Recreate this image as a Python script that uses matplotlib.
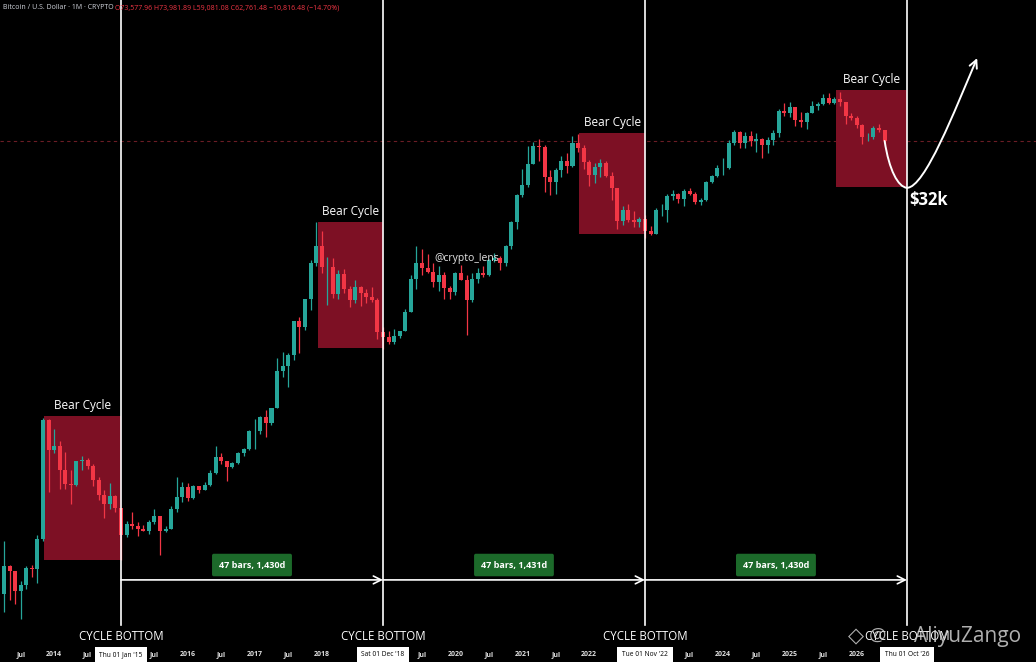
import numpy as np
import pandas as pd
import matplotlib
matplotlib.use('Agg')
import matplotlib.pyplot as plt
import matplotlib.transforms as mtransforms
from matplotlib.patches import Rectangle, FancyArrowPatch
from matplotlib.path import Path

plt.rcParams['font.family'] = ['Open Sans', 'DejaVu Sans']

# Monthly candles, Apr 2013 .. Jun 2026 (open = previous close)
first_open = 93
close = [139, 129, 97, 106, 135, 133, 204, 1129, 732,
         780, 550, 450, 445, 628, 640, 585, 478, 386, 338, 378, 318,
         217, 255, 245, 236, 230, 263, 284, 230, 236, 314, 377, 430,
         368, 436, 416, 448, 531, 670, 624, 575, 609, 700, 742, 965,
         970, 1190, 1080, 1350, 2300, 2480, 2875, 4735, 4340, 6470, 10850, 13850,
         10200, 10300, 6925, 9240, 7500, 6390, 7730, 7030, 6630, 6370, 4040, 3740,
         3460, 3820, 4100, 5350, 8570, 10820, 10080, 9600, 8300, 9150, 7550, 7190,
         9350, 8520, 6410, 8630, 9450, 9140, 11340, 11650, 10780, 13790, 19700, 28990,
         33100, 45200, 58800, 57700, 37300, 35040, 41460, 47100, 43800, 61300, 57000, 46200,
         38500, 43200, 45500, 37700, 31800, 19900, 23300, 20050, 19430, 20500, 17160, 16550,
         23140, 23150, 28460, 29250, 27220, 30470, 29230, 25930, 26970, 34660, 37720, 42280,
         42580, 61170, 71300, 60670, 67500, 62700, 64600, 58970, 63330, 70200, 96400, 93400,
         102400, 84350, 82550, 94200, 104600, 107100, 115750, 108250, 114050, 109600, 90400, 87500,
         78500, 66500, 66800, 76000, 73578, 62761]
high = [200, 140, 130, 111, 138, 141, 218, 1163, 1150,
        1000, 840, 720, 550, 630, 680, 660, 600, 500, 415, 460, 385,
        320, 265, 300, 260, 250, 268, 315, 285, 245, 330, 500, 465,
        460, 448, 440, 467, 550, 780, 704, 627, 620, 720, 755, 975,
        1150, 1200, 1300, 1350, 2760, 3000, 2990, 4740, 5000, 6470, 11400, 19700,
        17200, 11800, 11700, 9760, 9990, 7760, 8500, 7760, 7410, 7680, 6600, 4300,
        4100, 4200, 4100, 5600, 9100, 13880, 13200, 12300, 10900, 10400, 9500, 7750,
        9600, 10500, 9190, 9460, 10080, 10400, 11440, 12480, 12060, 14100, 19900, 29300,
        41950, 58350, 61800, 64900, 59600, 41300, 42400, 50500, 52900, 67000, 69000, 59100,
        47900, 45800, 48200, 47400, 40000, 31900, 24700, 25200, 22800, 21100, 21500, 18400,
        23950, 25250, 29200, 31000, 29850, 31400, 31800, 30200, 27500, 35200, 38400, 44700,
        48970, 64000, 73800, 72800, 71950, 72000, 70000, 65100, 66500, 73600, 99600, 108300,
        109600, 102500, 95000, 95800, 111900, 110500, 123200, 124500, 117900, 126200, 110600, 94500,
        90000, 80000, 70500, 77500, 80000, 73982]
low = [72, 85, 80, 65, 100, 118, 109, 200, 400,
       700, 420, 420, 340, 440, 550, 560, 440, 360, 275, 316, 300,
       152, 212, 235, 213, 228, 220, 253, 162, 225, 235, 300, 350,
       354, 365, 396, 414, 436, 521, 605, 470, 570, 605, 680, 740,
       750, 920, 890, 1060, 1350, 2100, 1830, 2670, 2970, 4120, 5500, 10400,
       9400, 5900, 6600, 6430, 7030, 5750, 6070, 5880, 6100, 6180, 3650, 3150,
       3400, 3400, 3670, 4100, 5330, 7500, 9100, 9400, 7700, 7300, 6500, 6430,
       6870, 8450, 3850, 6150, 8100, 8900, 8980, 11000, 9850, 10380, 13200, 17600,
       28130, 32300, 45000, 47000, 30000, 28800, 29300, 37300, 39600, 43300, 53250, 42000,
       32900, 34300, 37200, 37600, 26700, 17600, 18800, 19600, 18150, 18200, 15500, 16300,
       16500, 21350, 19550, 26950, 25800, 24750, 28850, 25200, 24900, 26550, 34100, 37600,
       38500, 41900, 59000, 56500, 56550, 58400, 53500, 49000, 52550, 58900, 66800, 90500,
       89200, 78200, 76600, 74400, 93400, 98200, 105100, 107300, 107300, 103500, 80600, 84400,
       76000, 60000, 63000, 64500, 71000, 59081]

# Bear-cycle boxes: (start month, end month, top price, bottom price), months counted from Jan 2015
bear_boxes = [(-13.8, 0, 1200, 151), (35.3, 47, 19600, 3210),
              (82.2, 94, 70100, 16500), (128.3, 141, 130800, 32500)]
cycle_bottoms = [0, 47, 94, 141]
bottom_dates = ["Thu 01 Jan '15", "Sat 01 Dec '18", "Tue 01 Nov '22", "Thu 01 Oct '26"]
span_labels = ['47 bars, 1,430d', '47 bars, 1,431d', '47 bars, 1,430d']
target_price = 32000
last_close = close[-1]

months = pd.date_range('2013-04-01', periods=len(close), freq='MS')
mi = np.array((months.year - 2015) * 12 + months.month - 1)
o = np.array([first_open] + close[:-1], dtype=float)
c = np.array(close, dtype=float)
h = np.array(high, dtype=float)
l = np.array(low, dtype=float)

GREEN = '#26a69a'
RED = '#f23645'

fig = plt.figure(figsize=(10.36, 6.62), dpi=100)
fig.patch.set_facecolor('black')
ax = fig.add_axes([0, 0, 1, 1])
ax.set_yscale('log')
ax.set_xlim(-21.708, 164.155)
ax.set_ylim(34.85, 477300)
ax.axis('off')
trans = mtransforms.blended_transform_factory(ax.transData, ax.transAxes)

# candles
cols = np.where(c >= o, GREEN, RED)
top = np.maximum(o, c)
bot = np.minimum(o, c)
top = np.maximum(top, bot * 1.006)
ax.vlines(mi, l, h, colors=cols, lw=0.9, zorder=3)
ax.bar(mi, top - bot, bottom=bot, width=0.72, color=cols, zorder=4)

# current price line
ax.axhline(last_close, color='#6b1d25', lw=0.8, ls=(0, (3, 3)), zorder=1)

# bear boxes
for x0, x1, ytop, ybot in bear_boxes:
    ax.add_patch(Rectangle((x0, ybot), x1 - x0, ytop - ybot, fc='#7d1024', ec='none', zorder=2))
    ax.annotate('Bear Cycle', xy=((x0 + x1) / 2, ytop), xytext=(0, 3), textcoords='offset points',
                ha='center', va='bottom', color='white', fontsize=8.5, zorder=6)

# cycle bottom lines
for k, cb in enumerate(cycle_bottoms):
    ax.axvline(cb, ymin=0.056, ymax=1, color='white', lw=1.2, zorder=5)
    ax.text(cb, 0.039, 'CYCLE BOTTOM', transform=trans, ha='center', va='center',
            color='white', fontsize=8.3, zorder=6)
    ax.text(cb, 0.011, bottom_dates[k], transform=trans, ha='center', va='center', fontsize=4.8,
            color='black', zorder=8, bbox=dict(boxstyle='square,pad=0.7', fc='white', ec='none'))

# spans
for k in range(3):
    a, b = cycle_bottoms[k], cycle_bottoms[k + 1]
    ax.annotate('', xy=(b, 0.124), xytext=(a, 0.124), xycoords=trans, textcoords=trans,
                arrowprops=dict(arrowstyle='->', color='white', lw=1.2, mutation_scale=14,
                                shrinkA=0, shrinkB=0), zorder=5)
    ax.text((a + b) / 2, 0.1465, span_labels[k], transform=trans, ha='center', va='center',
            color='white', fontsize=6.5, fontweight='bold', zorder=6,
            bbox=dict(boxstyle='round,pad=0.75,rounding_size=0.2', fc='#1c6a2a', ec='none'))

# x tick labels (those under a date box are hidden)
for t in range(-18, 139, 6):
    if min(abs(t - cb) for cb in cycle_bottoms) <= 5:
        continue
    yr = 2015 + (t // 12)
    lab = str(yr) if t % 12 == 0 else 'Jul'
    ax.text(t, 0.012, lab, transform=trans, ha='center', va='center', color='#e0e0e0',
            fontsize=5, fontweight='bold', zorder=6)

# projection curve
verts = [(mi[-1], last_close), (137.8, 41300), (139.4, 32400), (141, target_price),
         (144.2, target_price), (149.6, 98000), (153.6, 207000)]
codes = [Path.MOVETO] + [Path.CURVE4] * 6
ax.add_patch(FancyArrowPatch(path=Path(verts, codes), arrowstyle='->', mutation_scale=14,
                             color='white', lw=1.4, zorder=6))
ax.annotate('$32k', xy=(141, target_price), xytext=(2, -2), textcoords='offset points',
            ha='left', va='top', color='white', fontsize=12, fontweight='bold', zorder=6)

ax.text(62.1, 11650, '@crypto_lens', ha='center', va='center', color='#e6e6e6', fontsize=7.5, zorder=6)

# header
fig.text(0.003, 0.988, 'Bitcoin / U.S. Dollar \u00b7 1M \u00b7 CRYPTO', color='#d1d4dc', fontsize=5,
         ha='left', va='center')
fig.text(0.111, 0.988, 'O73,577.96 H73,981.89 L59,081.08 C62,761.48 \u221210,816.48 (\u221214.70%)',
         color=RED, fontsize=5, ha='left', va='center')

# watermark
fig.text(0.826, 0.039, '\u25c7', color='#cfcfcf', alpha=0.85, fontsize=15, ha='center', va='center',
         family='DejaVu Sans')
fig.text(0.847, 0.039, '@', color='#cfcfcf', alpha=0.85, fontsize=14, ha='center', va='center')
fig.text(0.9335, 0.039, 'AliyuZango', color='#cfcfcf', alpha=0.85, fontsize=15, ha='center', va='center')

fig.savefig('out.png', dpi=100, facecolor='black')
